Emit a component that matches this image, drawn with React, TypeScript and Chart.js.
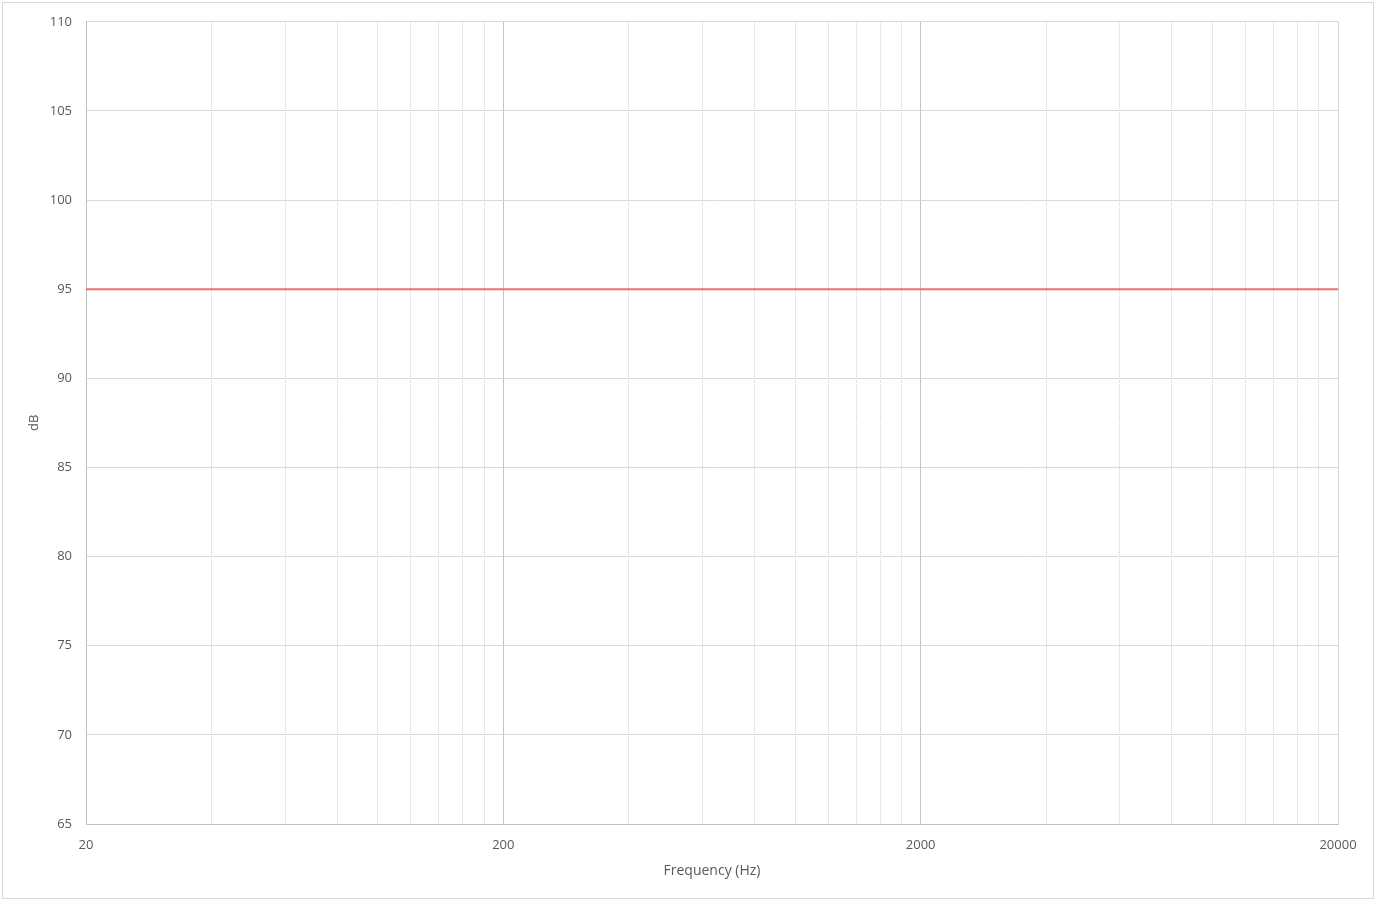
import React, { useEffect, useRef } from "react";
import { Chart, registerables } from "chart.js";

Chart.register(...registerables);

const frequencies = [20, 20000];
const levels = [95, 95];
const labeledTicks = [20, 200, 2000, 20000];
const minorMultipliers = [1, 2, 3, 4, 5, 6, 7, 8, 9];
const yMin = 65;
const yMax = 110;
const yStep = 5;

function makeDotPattern(): CanvasPattern | string {
  const c = document.createElement("canvas");
  c.width = 1;
  c.height = 2;
  const cx = c.getContext("2d");
  if (!cx) return "#e6e6e6";
  cx.fillStyle = "#d0d0d0";
  cx.fillRect(0, 0, 1, 1);
  const main = document.createElement("canvas").getContext("2d");
  const p = main ? main.createPattern(c, "repeat") : null;
  return p || "#e6e6e6";
}

export default function App() {
  const ref = useRef<HTMLCanvasElement | null>(null);

  useEffect(() => {
    document.body.style.margin = "0";
    if (!ref.current) return;
    const dotted = makeDotPattern();
    const ticksSet: number[] = [];
    labeledTicks.slice(0, -1).forEach((d) => {
      minorMultipliers.forEach((k) => ticksSet.push(d * k));
    });
    ticksSet.push(labeledTicks[labeledTicks.length - 1]);

    const font = { family: "'Open Sans', 'Noto Sans', sans-serif" };
    const chart = new Chart(ref.current, {
      type: "line",
      data: {
        datasets: [
          {
            data: frequencies.map((f, i) => ({ x: f, y: levels[i] })),
            borderColor: "#f07070",
            borderWidth: 2,
            pointRadius: 0,
            fill: false,
          },
        ],
      },
      options: {
        animation: false,
        responsive: false,
        devicePixelRatio: 1,
        layout: { padding: { top: 19.5, right: 38, bottom: 0, left: 0 } },
        plugins: { legend: { display: false }, tooltip: { enabled: false } },
        scales: {
          x: {
            type: "logarithmic",
            min: 20,
            max: 20000,
            afterBuildTicks: (scale: any) => {
              scale.ticks = ticksSet.map((v) => ({ value: v }));
            },
            afterFit: (scale: any) => {
              scale.height = 78;
            },
            ticks: {
              autoSkip: false,
              maxRotation: 0,
              padding: 13,
              color: "#595959",
              font: { ...font, size: 13 },
              callback: (v: any) => (labeledTicks.includes(Number(v)) ? String(v) : ""),
            },
            grid: {
              drawTicks: false,
              lineWidth: 1,
              color: (ctx: any) => {
                const v = ctx.tick ? ctx.tick.value : 0;
                if (v === 200 || v === 2000) return "#c4c4c4";
                if (v === 20 || v === 20000) return "#d9d9d9";
                return dotted as any;
              },
            },
            border: { display: true, color: "#bfbfbf", width: 1 },
            title: {
              display: true,
              text: "Frequency (Hz)",
              color: "#595959",
              font: { ...font, size: 14 },
              padding: { top: 0, bottom: 23 },
            },
          },
          y: {
            type: "linear",
            min: yMin,
            max: yMax,
            afterFit: (scale: any) => {
              scale.width = 86;
            },
            ticks: {
              stepSize: yStep,
              padding: 14,
              color: "#595959",
              font: { ...font, size: 13 },
            },
            grid: { drawTicks: false, color: "#d9d9d9", lineWidth: 1 },
            border: { display: true, color: "#bfbfbf", width: 1 },
            title: {
              display: true,
              text: "dB",
              color: "#595959",
              font: { ...font, size: 13 },
              padding: { top: 26, bottom: 0 },
            },
          },
        },
      },
    });
    return () => chart.destroy();
  }, []);

  return (
    <div style={{ position: "relative", width: 1376, height: 902, background: "#fff" }}>
      <canvas ref={ref} width={1376} height={902} style={{ display: "block" }} />
      <div
        style={{
          position: "absolute",
          left: 2,
          top: 2,
          width: 1372,
          height: 897,
          border: "1px solid #d9d9d9",
          boxSizing: "border-box",
          pointerEvents: "none",
        }}
      />
    </div>
  );
}
